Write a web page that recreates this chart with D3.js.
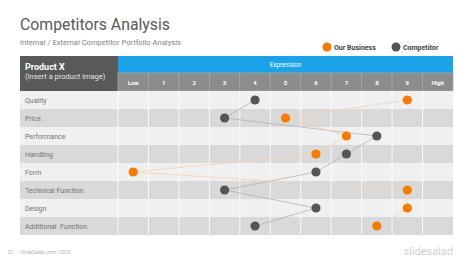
<!DOCTYPE html>
<html>
<head>
<meta charset="utf-8">
<script src="https://cdn.jsdelivr.net/npm/d3@7"></script>
<style>
  body { margin: 0; background: #fff; }
  svg { display: block; font-family: Roboto, "Open Sans", sans-serif; }
</style>
</head>
<body>
<svg id="drawing_region"></svg>
<script>
const features = ["Quality", "Price", "Performance", "Handling", "Form",
                  "Technical Function", "Design", "Additional  Function"];
const levels = ["Low", "1", "2", "3", "4", "5", "6", "7", "8", "9", "High"];
const ourBusiness = ["9", "5", "7", "6", "Low", "9", "9", "8"];
const competitor = ["4", "3", "8", "7", "6", "3", "6", "4"];

const W = 474, H = 266;
const tLeft = 20, tRight = 453, tTop = 56;
const labelW = 98, blueH = 17, headH = 35, rowH = 18;

const svg = d3.select('#drawing_region').attr('width', W).attr('height', H);

// title
svg.append('text').attr('x', 20).attr('y', 30)
    .attr('font-size', 15.8).attr('fill', '#595959').text('Competitors Analysis');
svg.append('text').attr('x', 20).attr('y', 45)
    .attr('font-size', 7.6).attr('fill', '#7f7f7f').text('Internal / External Competitor Portfolio Analysis');

// legend
const legend = [{ name: 'Our Business', color: '#f57c00', x: 327 },
                { name: 'Competitor', color: '#555555', x: 396 }];
legend.forEach(l => {
    svg.append('circle').attr('cx', l.x).attr('cy', 47).attr('r', 4.5).attr('fill', l.color);
    svg.append('text').attr('x', l.x + 7).attr('y', 49.5).attr('font-size', 7)
        .attr('font-weight', 'bold').attr('fill', '#444').text(l.name);
});

const x = d3.scaleBand().domain(levels).range([tLeft + labelW, tRight]);
const y = d3.scaleBand().domain(features).range([tTop + headH, tTop + headH + rowH * features.length]);

// header
svg.append('rect').attr('x', tLeft).attr('y', tTop).attr('width', labelW).attr('height', headH).attr('fill', '#595959');
svg.append('text').attr('x', tLeft + 5).attr('y', tTop + 14).attr('font-size', 9)
    .attr('font-weight', 'bold').attr('fill', '#fff').text('Product X');
svg.append('text').attr('x', tLeft + 5).attr('y', tTop + 23).attr('font-size', 7.5)
    .attr('fill', '#e6e6e6').text('(Insert a product image)');
svg.append('rect').attr('x', tLeft + labelW).attr('y', tTop).attr('width', tRight - tLeft - labelW)
    .attr('height', blueH).attr('fill', '#1aa3e8');
svg.append('text').attr('x', (tLeft + labelW + tRight) / 2).attr('y', tTop + 11).attr('text-anchor', 'middle')
    .attr('font-size', 6.5).attr('fill', '#fff').text('Expression');

svg.selectAll('.hcell').data(levels).join('rect')
    .attr('x', d => x(d)).attr('y', tTop + blueH).attr('width', x.bandwidth()).attr('height', headH - blueH)
    .attr('fill', '#8c8c8c').attr('stroke', '#a6a6a6').attr('stroke-width', 0.8);
svg.selectAll('.hlabel').data(levels).join('text')
    .attr('x', d => x(d) + x.bandwidth() / 2).attr('y', tTop + blueH + 11.5).attr('text-anchor', 'middle')
    .attr('font-size', 6).attr('font-weight', 'bold').attr('fill', '#fff').text(d => d);

// rows
svg.selectAll('.row').data(features).join('rect')
    .attr('x', tLeft).attr('y', d => y(d)).attr('width', tRight - tLeft).attr('height', rowH)
    .attr('fill', (d, i) => i % 2 ? '#d9d9d9' : '#f0f0f0');
svg.selectAll('.rlabel').data(features).join('text')
    .attr('x', tLeft + 5).attr('y', d => y(d) + rowH / 2 + 2.5)
    .attr('font-size', 7).attr('fill', '#737373').attr('xml:space', 'preserve').text(d => d);
svg.selectAll('.vline').data(levels).join('line')
    .attr('x1', d => x(d)).attr('x2', d => x(d))
    .attr('y1', tTop + headH).attr('y2', tTop + headH + rowH * features.length)
    .attr('stroke', '#fafafa').attr('stroke-width', 1);

// series
const cx = v => x(v) + x.bandwidth() / 2;
const cy = f => y(f) + rowH / 2;
const line = d3.line().x(d => cx(d.v)).y(d => cy(d.f));
const series = [
    { vals: competitor, color: '#555555', lineColor: '#b0b0b0' },
    { vals: ourBusiness, color: '#f57c00', lineColor: '#f4cfae' }
];
series.forEach(s => {
    const pts = features.map((f, i) => ({ f: f, v: s.vals[i] }));
    svg.append('path').datum(pts).attr('d', line).attr('fill', 'none')
        .attr('stroke', s.lineColor).attr('stroke-width', 0.75);
});
series.forEach(s => {
    const pts = features.map((f, i) => ({ f: f, v: s.vals[i] }));
    svg.selectAll(null).data(pts).join('circle')
        .attr('cx', d => cx(d.v)).attr('cy', d => cy(d.f)).attr('r', 4.6).attr('fill', s.color);
});

// footer
svg.append('text').attr('x', 8).attr('y', 254).attr('font-size', 5).attr('fill', '#b3b3b3')
    .attr('xml:space', 'preserve').text('31    | SlideSalad.com | 2020');
svg.append('text').attr('x', 453).attr('y', 255).attr('text-anchor', 'end').attr('font-size', 11)
    .attr('fill', '#d0d0d0').text('slidesalad');
</script>
</body>
</html>
